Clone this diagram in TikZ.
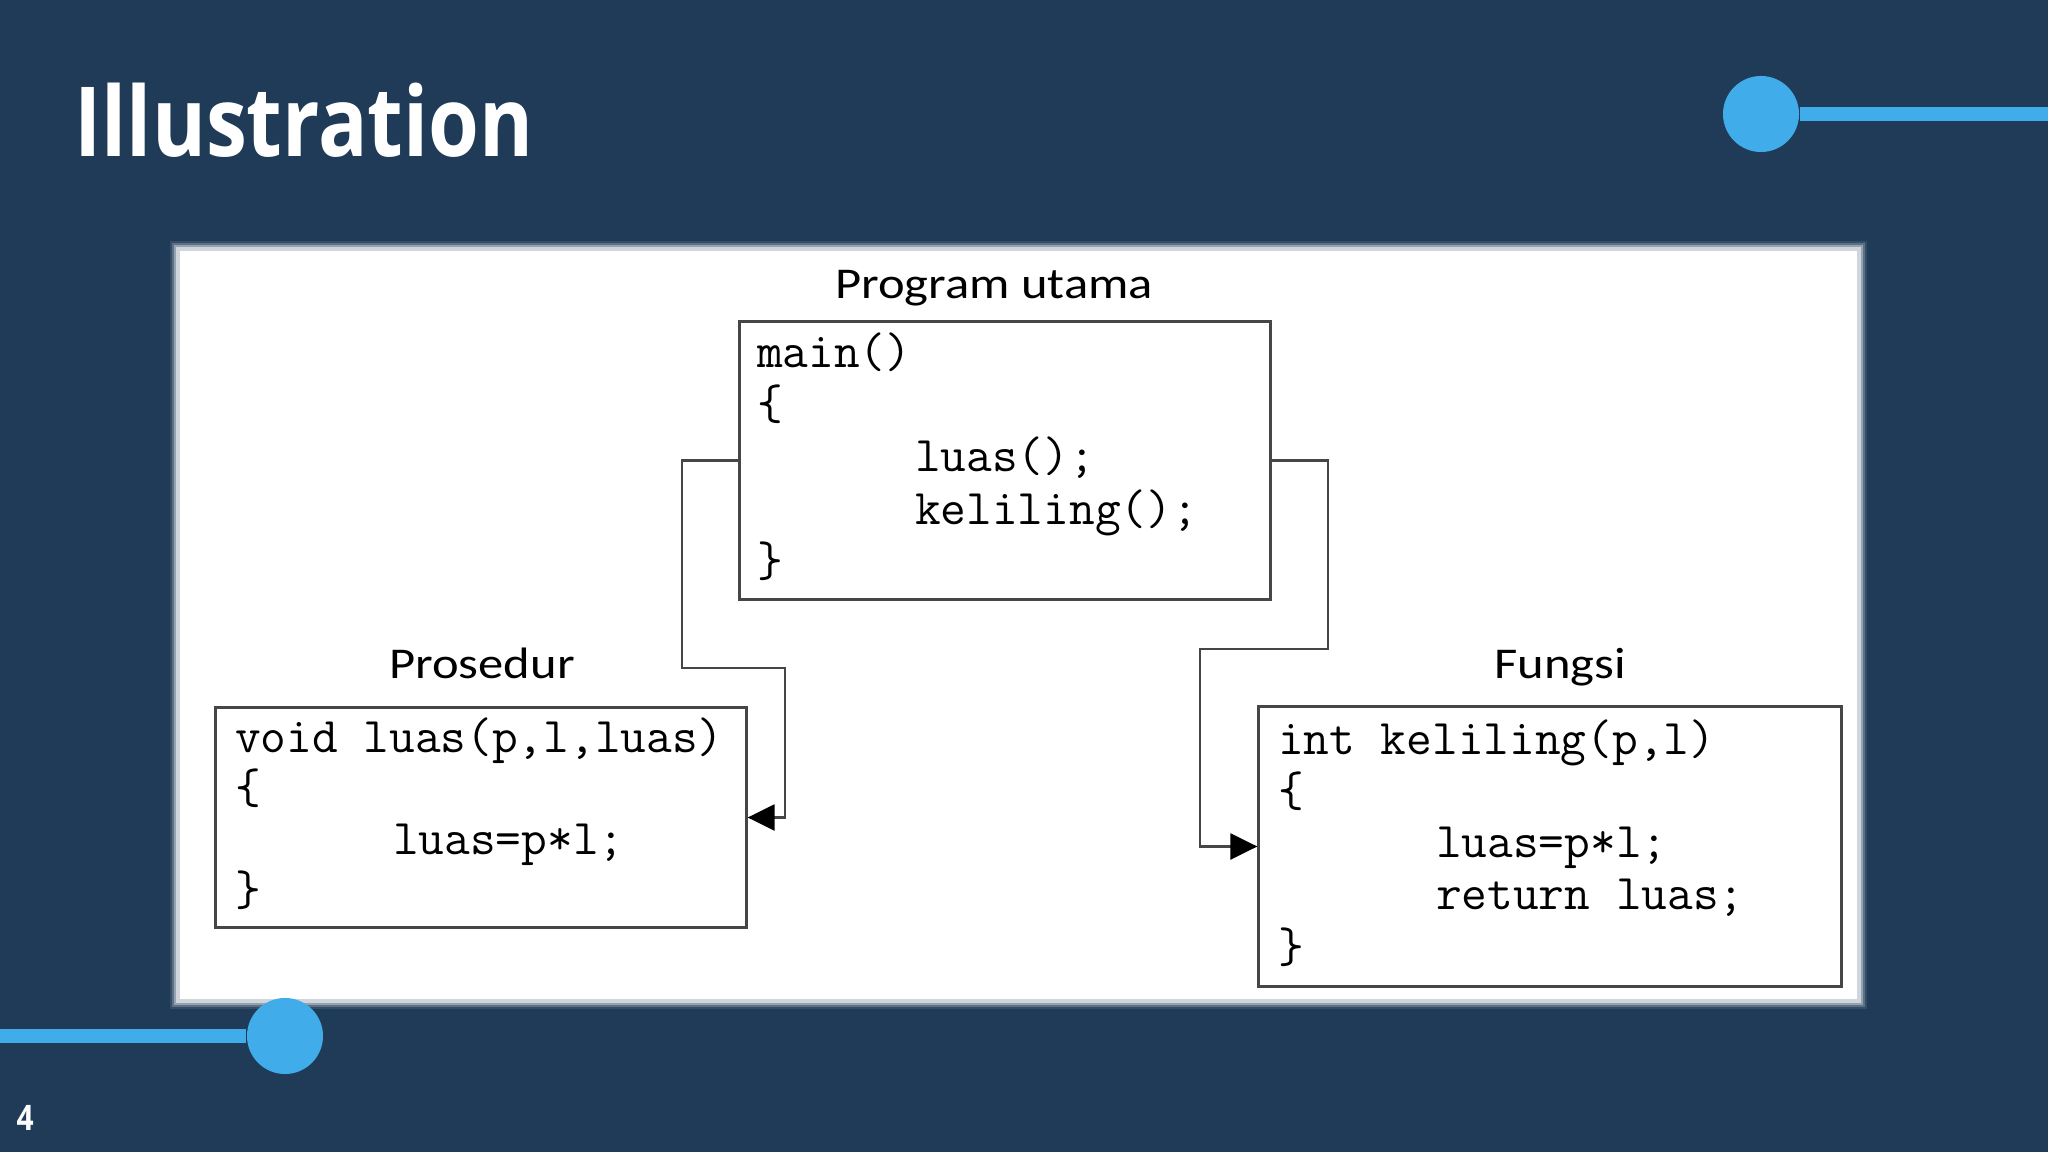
\documentclass[tikz,border=0pt]{standalone}
\usepackage{fontspec}
\usetikzlibrary{positioning,arrows.meta}
\newfontfamily\titlefont[FakeStretch=0.85]{Open Sans}
\newfontfamily\labelfont[FakeStretch=1.15]{Carlito}
\definecolor{slidebg}{RGB}{31,59,87}
\definecolor{dotblue}{RGB}{64,172,234}
\definecolor{linegray}{RGB}{70,70,70}

\begin{document}
\begin{tikzpicture}[x=0.01cm, y=-0.01cm,
	codebox/.style={draw=linegray, line width=0.85pt, rectangle, inner sep=0},
	boxlabel/.style={font=\labelfont\fontsize{12.5}{15}\selectfont, inner sep=0, anchor=base},
	codeline/.style={font=\ttfamily\fontsize{14.2}{17}\selectfont, inner sep=0, anchor=base west},
	callline/.style={draw=linegray, line width=0.7pt, -{Triangle[length=0.27cm, width=0.26cm, color=black]}},
	bluedot/.style={circle, fill=dotblue, minimum size=0.76cm, inner sep=0},
	bluebar/.style={draw=dotblue, line width=4pt}]

	\useasboundingbox (0,0) rectangle (2048,1152);
	\fill[slidebg] (0,0) rectangle (2048,1152);

	% white panel with soft edge
	\foreach \d/\o in {7/0.1, 5/0.2, 3/0.35, 1/0.55}
		\fill[white, opacity=\o] (177-\d,248-\d) rectangle (1860+\d,1002+\d);
	\fill[white] (180,251) rectangle (1857,999);

	\node[font=\titlefont\bfseries\fontsize{27.5}{33}\selectfont, text=white, inner sep=0, anchor=base west] (title) at (74,157) {Illustration};

	\coordinate (topend) at (2048,114);
	\node[bluedot] (topdot) at (1761,114) {};
	\draw[bluebar] (topdot) -- (topend);
	\coordinate (botend) at (0,1036);
	\node[bluedot] (botdot) at (285,1036) {};
	\draw[bluebar] (botend) -- (botdot);

	\node[font=\titlefont\bfseries\fontsize{10}{12}\selectfont, text=white, inner sep=0, anchor=base west] (pagenum) at (16,1130) {4};

	\node[codebox, minimum width=5.30cm, minimum height=2.77cm] (mainbox) at (1005,460.5) {};
	\node[codebox, minimum width=5.30cm, minimum height=2.19cm] (prosbox) at (481,817.5) {};
	\node[codebox, minimum width=5.82cm, minimum height=2.79cm] (fungbox) at (1550,846.5) {};

	\node[boxlabel] (maintitle) at ([shift={(-11,-22)}]mainbox.north) {Program utama};
	\node[boxlabel] (prostitle) at ([shift={(1,-28)}]prosbox.north) {Prosedur};
	\node[boxlabel] (fungtitle) at ([shift={(10,-27)}]fungbox.north) {Fungsi};

	% main
	\node[codeline] (m1) at ([shift={(18,47)}]mainbox.north west) {main()};
	\node[codeline] (m2) at ([shift={(18,99)}]mainbox.north west) {\{};
	\node[codeline] (m3) at ([shift={(176,151)}]mainbox.north west) {luas();};
	\node[codeline] (m4) at ([shift={(176,204)}]mainbox.north west) {keliling();};
	\node[codeline] (m5) at ([shift={(18,256)}]mainbox.north west) {\}};

	% prosedur
	\node[codeline] (p1) at ([shift={(20,46)}]prosbox.north west) {void luas(p,l,luas)};
	\node[codeline] (p2) at ([shift={(20,97)}]prosbox.north west) {\{};
	\node[codeline] (p3) at ([shift={(178,148)}]prosbox.north west) {luas=p*l;};
	\node[codeline] (p4) at ([shift={(20,199)}]prosbox.north west) {\}};

	% fungsi
	\node[codeline] (f1) at ([shift={(20,49)}]fungbox.north west) {int keliling(p,l)};
	\node[codeline] (f2) at ([shift={(20,101)}]fungbox.north west) {\{};
	\node[codeline] (f3) at ([shift={(178,152)}]fungbox.north west) {luas=p*l;};
	\node[codeline] (f4) at ([shift={(178,204)}]fungbox.north west) {return luas;};
	\node[codeline] (f5) at ([shift={(20,257)}]fungbox.north west) {\}};

	\coordinate (lbend1) at (682,668);
	\coordinate (lbend2) at (785,668);
	\draw[callline] (mainbox.west) -| (lbend1) -- (lbend2) |- (prosbox.east);
	\coordinate (rbend1) at (1328,649);
	\coordinate (rbend2) at (1200,649);
	\draw[callline] (mainbox.east) -| (rbend1) -- (rbend2) |- (fungbox.west);
\end{tikzpicture}
\end{document}
